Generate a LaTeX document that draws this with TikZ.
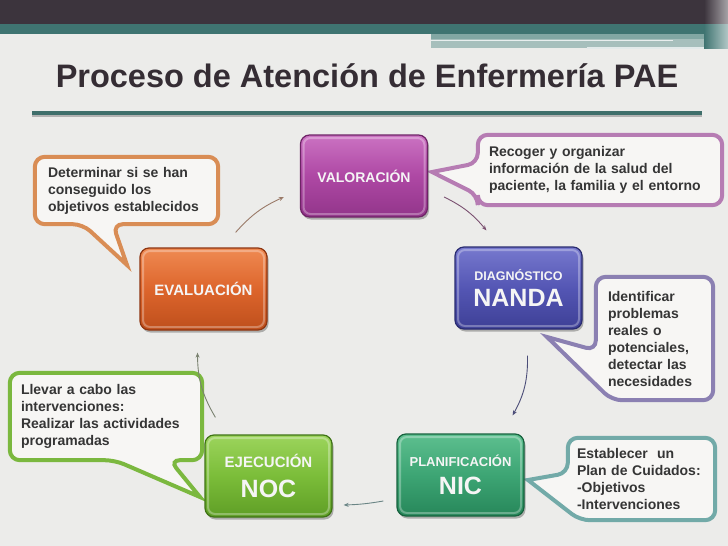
\documentclass[tikz,border=0pt]{standalone}
\usepackage{fontspec}
\setmainfont{Liberation Sans}
\usetikzlibrary{shadows,calc,arrows.meta}
\pgfdeclarelayer{bottom}
\pgfdeclarelayer{background}
\pgfsetlayers{bottom,background,main}

\definecolor{bg}{HTML}{ECECEA}
\definecolor{hdark}{HTML}{3C343D}
\definecolor{hteal}{HTML}{3F7471}
\definecolor{hteal2}{HTML}{82A7A3}
\definecolor{hteal3}{HTML}{A6BFBC}
\definecolor{titlec}{HTML}{352D34}
\definecolor{ulc}{HTML}{3F6F6B}
\definecolor{ctext}{HTML}{353535}
\definecolor{cfill}{HTML}{F7F6F4}

\definecolor{valT}{HTML}{CB72C2}\definecolor{valM}{HTML}{AE48A4}\definecolor{valB}{HTML}{92358A}\definecolor{valD}{HTML}{6E2466}
\definecolor{diaT}{HTML}{7779CE}\definecolor{diaM}{HTML}{5456B4}\definecolor{diaB}{HTML}{3E4096}\definecolor{diaD}{HTML}{2A2C70}
\definecolor{evaT}{HTML}{EF8A52}\definecolor{evaM}{HTML}{DD652C}\definecolor{evaB}{HTML}{BE4F1C}\definecolor{evaD}{HTML}{8E3510}
\definecolor{ejeT}{HTML}{9CD45C}\definecolor{ejeM}{HTML}{7BBD39}\definecolor{ejeB}{HTML}{5F9E26}\definecolor{ejeD}{HTML}{3F7315}
\definecolor{plaT}{HTML}{5DBF8F}\definecolor{plaM}{HTML}{3DA574}\definecolor{plaB}{HTML}{27875A}\definecolor{plaD}{HTML}{17623E}

\definecolor{cvalC}{HTML}{B67CB3}
\definecolor{cdiaC}{HTML}{8B80B2}
\definecolor{cevaC}{HTML}{D98D55}
\definecolor{cejeC}{HTML}{7BB83F}
\definecolor{cplaC}{HTML}{72AAA8}

\definecolor{cA}{HTML}{9A7A68}
\definecolor{cB}{HTML}{7A5070}
\definecolor{cC}{HTML}{4B4D78}
\definecolor{cD}{HTML}{6A8585}
\definecolor{cE}{HTML}{7A8270}

\tikzset{
  stepbox/.style={rounded corners=9pt, minimum width=127pt, minimum height=82pt,
    line width=1.2pt, text=white!96!black, align=center, inner sep=0pt,
    drop shadow={shadow xshift=1.5pt, shadow yshift=-2.5pt, opacity=0.4, fill=black!70},
    path picture={\draw[white, opacity=0.3, line width=2pt, rounded corners=7pt]
      ($(path picture bounding box.south west)+(3pt,3pt)$) rectangle
      ($(path picture bounding box.north east)+(-3pt,-3pt)$);}},
  calltext/.style={align=left, font=\bfseries\fontsize{14}{17}\selectfont, text=ctext, inner ysep=0pt},
  callline/.style={line width=4pt, fill=cfill, rounded corners=10pt,
    drop shadow={shadow xshift=1pt, shadow yshift=-1.5pt, opacity=0.25}},
  conn/.style={-{Stealth[length=5pt,width=4pt]}, line width=0.9pt},
}

\begin{document}
\begin{tikzpicture}[x=1pt,y=-1pt]
\useasboundingbox (0,0) rectangle (728,546);
\begin{pgfonlayer}{bottom}
  \fill[bg] (0,0) rectangle (728,546);
  \fill[hdark] (0,0) rectangle (728,24);
  \fill[hteal] (0,24) rectangle (728,34);
  \fill[hteal3] (431,34) rectangle (713,48);
  \fill[hteal2] (431,34) rectangle (713,39);
  \fill[white!88!hteal] (431,39.5) rectangle (673,41);
  \fill[white!85!hteal] (587,46.5) rectangle (713,49);
  \shade[left color=hdark, right color=hdark!45!white] (704,0) rectangle (728,24);
  \shade[left color=hteal, right color=hteal!40!white] (704,24) rectangle (728,48);
\end{pgfonlayer}

% title
\node[anchor=base, font=\bfseries\fontsize{32.5}{33}\selectfont, text=titlec, inner sep=0pt] (title) at (367,87) {Proceso de Atención de Enfermería PAE};
\draw[line width=4.5pt, black!30] (32,115) -- (702,115);
\draw[line width=4.5pt, ulc] (32,113) -- (702,113);

% step boxes
\node[stepbox, draw=valD, top color=valT, bottom color=valB, middle color=valM,
      font=\bfseries\fontsize{14}{14}\selectfont] (val) at (364,176) {VALORACIÓN};
\node[stepbox, draw=diaD, top color=diaT, bottom color=diaB, middle color=diaM,
      font=\bfseries\fontsize{12.5}{13}\selectfont] (dia) at (518.5,288)
      {DIAGNÓSTICO\\[7pt]{\fontsize{25}{25}\selectfont NANDA}};
\node[stepbox, draw=evaD, top color=evaT, bottom color=evaB, middle color=evaM,
      font=\bfseries\fontsize{15}{15}\selectfont] (eva) at (203.5,289) {EVALUACIÓN};
\node[stepbox, draw=ejeD, top color=ejeT, bottom color=ejeB, middle color=ejeM,
      font=\bfseries\fontsize{15}{15}\selectfont] (eje) at (268.5,476)
      {EJECUCIÓN\\[12pt]{\fontsize{25}{25}\selectfont NOC}};
\node[stepbox, draw=plaD, top color=plaT, bottom color=plaB, middle color=plaM,
      font=\bfseries\fontsize{13}{13}\selectfont] (pla) at (460.5,475)
      {PLANIFICACIÓN\\[9pt]{\fontsize{25}{25}\selectfont NIC}};

% callout texts
\node[calltext, minimum width=244pt, minimum height=70pt, text width=222pt, inner xsep=11pt] (cval) at (600,170)
  {Recoger y organizar\\información de la salud del\\paciente, la familia y el entorno};
\node[calltext, minimum width=117pt, minimum height=123pt, text width=93pt, inner xsep=12pt] (cdia) at (654.5,338.5)
  {Identificar\\problemas\\reales o\\potenciales,\\detectar las\\necesidades};
\node[calltext, minimum width=183pt, minimum height=67pt, text width=157pt, inner xsep=13pt] (ceva) at (126.5,190.5)
  {Determinar si se han\\conseguido los\\objetivos establecidos};
\node[calltext, minimum width=192pt, minimum height=87pt, text width=170pt, inner xsep=11pt] (ceje) at (106,416.5)
  {Llevar a cabo las\\intervenciones:\\Realizar las actividades\\programadas};
\node[calltext, minimum width=147pt, minimum height=82pt, text width=129pt, inner xsep=9pt] (cpla) at (641.5,479)
  {Establecer\ \ un\\Plan de Cuidados:\\-Objetivos\\-Intervenciones};

\coordinate (cvaltip) at (432,172);
\coordinate (cdiatip) at (547,337);
\coordinate (cevatip) at (127,265);
\coordinate (cejetip) at (200,497);
\coordinate (cplatip) at (528,480);

\begin{pgfonlayer}{background}
  \draw[callline, draw=cvalC] (cval.north) -- (cval.north east) -- (cval.south east) -- (cval.south west)
    -- ($(cval.west)+(0,25)$) [sharp corners] -- (cvaltip) [rounded corners=10pt] -- ($(cval.west)+(0,-7)$) -- (cval.north west) -- cycle;
  \draw[callline, draw=cdiaC] (cdia.north) -- (cdia.north east) -- (cdia.south east)
    -- ($(cdia.south west)+(16,0)$) [sharp corners] -- (cdiatip) [rounded corners=10pt] -- ($(cdia.west)+(0,12)$) -- (cdia.north west) -- cycle;
  \draw[callline, draw=cevaC] (ceva.north) -- (ceva.north east) -- (ceva.south east)
    -- ($(ceva.south west)+(78,0)$) [sharp corners] -- (cevatip) [rounded corners=10pt] -- ($(ceva.south west)+(48,0)$) -- (ceva.south west) -- (ceva.north west) -- cycle;
  \draw[callline, draw=cejeC] (ceje.north) -- (ceje.north east) -- (ceje.south east)
    -- ($(ceje.south west)+(160,0)$) [sharp corners] -- (cejetip) [rounded corners=10pt] -- ($(ceje.south west)+(105,0)$) -- (ceje.south west) -- (ceje.north west) -- cycle;
  \draw[callline, draw=cplaC] (cpla.north) -- (cpla.north east) -- (cpla.south east)
    -- ($(cpla.south west)+(12,0)$) [sharp corners] -- (cplatip) [rounded corners=10pt] -- ($(cpla.west)+(0,-6)$) -- (cpla.north west) -- cycle;
\end{pgfonlayer}

% connectors
\draw[conn, cA] ([xshift=-32pt,yshift=15pt]eva.north east) to[bend left=12] ([xshift=-16pt,yshift=-21pt]val.west);
\draw[conn, cB] ([xshift=16pt,yshift=-21pt]val.east) to[bend left=12] ([xshift=32pt,yshift=16pt]dia.north west);
\draw[conn, cC] ([xshift=9pt,yshift=-26pt]dia.south) to[bend left=15] ([xshift=-12pt,yshift=18pt]pla.north east);
\draw[conn, cD] ([xshift=-13pt,yshift=-26pt]pla.west) to[bend left=4] ([xshift=11pt,yshift=-29pt]eje.east);
\draw[conn, cE] ([xshift=11pt,yshift=17pt]eje.north west) to[bend left=15] ([xshift=-6pt,yshift=-22pt]eva.south);
\end{tikzpicture}
\end{document}
